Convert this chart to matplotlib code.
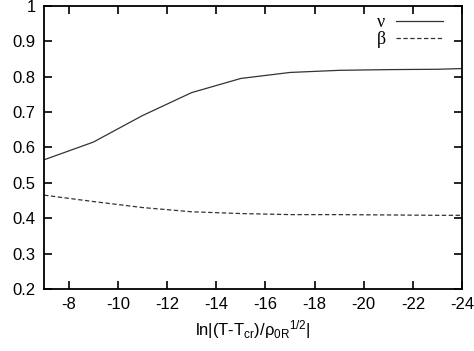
import matplotlib
matplotlib.use('Agg')
from matplotlib import pyplot as plt

plt.rcParams['font.family'] = ['Liberation Sans', 'DejaVu Sans']
plt.rcParams['mathtext.fontset'] = 'custom'
plt.rcParams['mathtext.rm'] = 'Liberation Sans'
plt.rcParams['mathtext.it'] = 'Liberation Sans:italic'
plt.rcParams['mathtext.default'] = 'regular'
plt.rcParams['axes.unicode_minus'] = False

# log scale variable, nu and beta exponents
x_vals = [-7, -9, -11, -13, -15, -17, -19, -21, -23, -24]
nu_vals = [0.565, 0.615, 0.69, 0.755, 0.795, 0.812, 0.818, 0.82, 0.821, 0.823]
beta_vals = [0.465, 0.447, 0.43, 0.418, 0.413, 0.41, 0.41, 0.409, 0.408, 0.408]

x_ticks = [-8, -10, -12, -14, -16, -18, -20, -22, -24]
y_ticks = [0.2, 0.3, 0.4, 0.5, 0.6, 0.7, 0.8, 0.9, 1.0]
y_labels = ['0.2', '0.3', '0.4', '0.5', '0.6', '0.7', '0.8', '0.9', '1']

fig = plt.figure(figsize=(4.74, 3.51), dpi=100)
ax = fig.add_axes([0.093, 0.177, 0.882, 0.806])

ax.plot(x_vals, nu_vals, color='#333333', lw=0.9, label='ν')
ax.plot(x_vals, beta_vals, color='#333333', lw=0.9, ls=(0, (3.5, 2)), label='β')

ax.set_xlim(-7, -24)
ax.set_ylim(0.2, 1.0)
ax.set_xticks(x_ticks)
ax.set_yticks(y_ticks)
ax.set_yticklabels(y_labels)
ax.tick_params(direction='in', top=True, right=True, length=6, width=1.2, labelsize=12, pad=6)
for s in ax.spines.values():
    s.set_linewidth(1.3)

ax.set_xlabel('ln|(T-T$_{cr}$)/ρ$_{0R}$$^{1/2}$|', fontsize=12, labelpad=4)

leg = ax.legend(loc='upper right', bbox_to_anchor=(0.955, 0.97), frameon=False,
                markerfirst=False, prop={'family': 'Liberation Serif', 'size': 13},
                handlelength=2.6, handletextpad=0.6, labelspacing=0.0,
                borderaxespad=0, borderpad=0)

plt.savefig('out.png', dpi=100)
